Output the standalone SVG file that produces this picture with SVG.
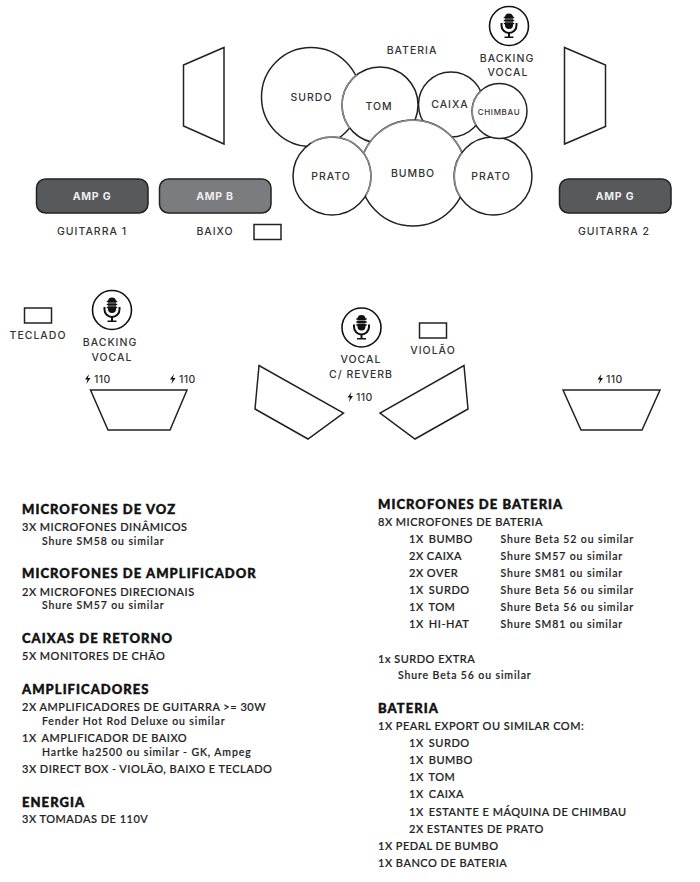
<svg xmlns="http://www.w3.org/2000/svg" width="700" height="882" viewBox="0 0 700 882">
<style>
.o{fill:#fff;stroke:#222;stroke-width:1.5;stroke-linejoin:miter}
.e{fill:none;stroke:#8a8a8a;stroke-width:1.6}
.l{font-family:"Inter","Liberation Sans",sans-serif;font-size:10.5px;font-weight:500;fill:#333;letter-spacing:1px;text-anchor:middle}
.a{font-family:"Inter","Liberation Sans",sans-serif;font-size:10.5px;font-weight:700;fill:#eee;letter-spacing:.75px;text-anchor:middle}
.h{font-family:"Lato","Liberation Sans",sans-serif;font-size:13px;font-weight:900;fill:#111;stroke:#111;stroke-width:.45px;letter-spacing:1.05px}
.t{font-family:"Lato","Liberation Sans",sans-serif;font-size:11px;font-weight:500;fill:#222;stroke:#222;stroke-width:.2px;letter-spacing:.5px}
.s{font-family:"Lato","Liberation Sans",sans-serif;font-size:10.5px;font-weight:500;fill:#222;stroke:#222;stroke-width:.2px;letter-spacing:.88px}
.n{font-family:"Inter","Liberation Sans",sans-serif;font-size:10.5px;font-weight:500;fill:#333;letter-spacing:.4px}
</style>
<defs>
<g id="mic">
<circle r="19.5" fill="#fff" stroke="#111" stroke-width="1.6"/>
<rect x="-4" y="-12.500" width="8" height="15.500" rx="4" fill="#111"/>
<path d="M-5.200 -8.500h10.400M-5.200 -5.500h10.400M-5.200 -2.500h10.400" stroke="#111" stroke-width="1.300" fill="none"/>
<path d="M-5.200 -7h10.400M-5.200 -4h10.400" stroke="#fff" stroke-width=".5" fill="none"/>
<path d="M-8.500 -3v2.500a8.500 8.500 0 0 0 17 0v-2.500h-2v2.500a6.500 6.500 0 0 1-13 0v-2.500z" fill="#111"/>
<path d="M-1 7h2v3.500h3.500v1.500h-9v-1.500h3.500z" fill="#111"/>
</g>
<path id="bolt" d="M1.500 0L-2.500 5.500H0L-1.200 10L3 4H0.400z" fill="#111"/>
</defs>

<g id="monitor-top-left"><polygon class="o" points="183.500,65 224,47.500 224,144 183.500,126"/></g>
<g id="monitor-top-right"><polygon class="o" points="564.500,47.500 605.500,65 605.500,126.500 564.500,144"/></g>

<g id="drums">
<g id="surdo"><circle class="o" cx="311" cy="97" r="49.500"/><text class="l" x="311.500" y="101">SURDO</text></g>
<g id="caixa"><circle class="o" cx="451" cy="104.500" r="32.500"/><text class="l" x="450" y="108">CAIXA</text></g>
<g id="tom"><circle class="o" cx="380" cy="105" r="38"/><path class="e" d="M356.900 74.800A38 38 0 0 0 350 128.300"/><text class="l" x="379" y="110">TOM</text></g>
<g id="bumbo"><circle class="o" cx="413" cy="173" r="53"/><path class="e" d="M364 153A53 53 0 0 1 462 153"/><text class="l" x="413" y="177">BUMBO</text></g>
<g id="prato-l"><circle class="o" cx="332" cy="176" r="39"/><path class="e" d="M311 143A39 39 0 0 1 366 195"/><text class="l" x="331" y="179.500">PRATO</text></g>
<g id="prato-r"><circle class="o" cx="493" cy="176" r="39"/><path class="e" d="M462 153A39 39 0 0 0 460 196.500"/><text class="l" x="491" y="179.500">PRATO</text></g>
<g id="chimbau"><circle class="o" cx="499.500" cy="111" r="27.500"/><path class="e" d="M481 91A27.500 27.500 0 0 0 476 125"/><text class="l" x="499" y="115" style="font-size:8px;letter-spacing:.65px">CHIMBAU</text></g>
<text class="l" x="412" y="54">BATERIA</text>
</g>

<g id="mic-top"><use href="#mic" x="509" y="26"/><text class="l" x="507" y="62">BACKING</text><text class="l" x="508" y="76">VOCAL</text></g>

<g id="amp-g1"><rect x="36.500" y="179" width="111.500" height="34" rx="9" fill="#58595b" stroke="#222" stroke-width="1.500"/><text class="a" x="92" y="200">AMP G</text></g>
<g id="amp-b"><rect x="159.500" y="179" width="111.500" height="34" rx="9" fill="#7b7c7f" stroke="#222" stroke-width="1.500"/><text class="a" x="215" y="200">AMP B</text></g>
<g id="amp-g2"><rect x="559.500" y="179" width="111.500" height="34" rx="9" fill="#58595b" stroke="#222" stroke-width="1.500"/><text class="a" x="615" y="200">AMP G</text></g>
<text class="l" x="92" y="235">GUITARRA 1</text>
<text class="l" x="215" y="235">BAIXO</text>
<text class="l" x="614" y="235">GUITARRA 2</text>
<g id="di-baixo"><rect class="o" x="254" y="224.500" width="27" height="15"/></g>

<g id="teclado"><rect class="o" x="24.500" y="308" width="27" height="15"/><text class="l" x="38" y="339">TECLADO</text></g>
<g id="mic-left"><use href="#mic" x="112" y="310"/><text class="l" x="110" y="346">BACKING</text><text class="l" x="112" y="361">VOCAL</text></g>
<g id="mic-center"><use href="#mic" x="361.500" y="327.500"/><text class="l" x="361" y="363">VOCAL</text><text class="l" x="361" y="378">C/ REVERB</text></g>
<g id="violao"><rect class="o" x="419.500" y="323" width="27" height="15"/><text class="l" x="433" y="354">VIOLÃO</text></g>

<g id="monitor-1"><polygon class="o" points="90.500,390 187,390 170,430 108,430"/></g>
<g id="monitor-2"><polygon class="o" points="259,365.500 255,409 308,439 343.500,413"/></g>
<g id="monitor-3"><polygon class="o" points="464,365.500 468,409 415,439 380,413"/></g>
<g id="monitor-4"><polygon class="o" points="563,390 660,390 642,430 581,430"/></g>

<g id="power">
<use href="#bolt" x="87.500" y="374"/><text class="n" x="94" y="383">110</text>
<use href="#bolt" x="172.500" y="374"/><text class="n" x="179" y="383">110</text>
<use href="#bolt" x="350" y="392"/><text class="n" x="356" y="401">110</text>
<use href="#bolt" x="600" y="374"/><text class="n" x="606" y="383">110</text>
</g>

<g id="list-left">
<text class="h" x="22" y="514">MICROFONES DE VOZ</text>
<text class="t" x="22" y="531">3X MICROFONES DINÂMICOS</text>
<text class="s" x="42" y="545">Shure SM58 ou similar</text>
<text class="h" x="22" y="578">MICROFONES DE AMPLIFICADOR</text>
<text class="t" x="22" y="596">2X MICROFONES DIRECIONAIS</text>
<text class="s" x="42" y="609">Shure SM57 ou similar</text>
<text class="h" x="22" y="643">CAIXAS DE RETORNO</text>
<text class="t" x="22" y="660">5X MONITORES DE CHÃO</text>
<text class="h" x="22" y="694">AMPLIFICADORES</text>
<text class="t" x="22" y="711">2X AMPLIFICADORES DE GUITARRA &gt;= 30W</text>
<text class="s" x="42" y="725">Fender Hot Rod Deluxe ou similar</text>
<text class="t" x="22" y="742">1X <tspan dx="2">AMPLIFICADOR DE BAIXO</tspan></text>
<text class="s" x="42" y="756">Hartke ha2500 ou similar - GK, Ampeg</text>
<text class="t" x="22" y="773">3X DIRECT BOX - VIOLÃO, BAIXO E TECLADO</text>
<text class="h" x="22" y="807">ENERGIA</text>
<text class="t" x="22" y="823">3X TOMADAS DE 110V</text>
</g>

<g id="list-right">
<text class="h" x="378" y="509">MICROFONES DE BATERIA</text>
<text class="t" x="378" y="526">8X MICROFONES DE BATERIA</text>
<text class="t" x="409" y="543">1X <tspan dx="2">BUMBO</tspan></text><text class="s" x="500.500" y="543">Shure Beta 52 ou similar</text>
<text class="t" x="409" y="560">2X CAIXA</text><text class="s" x="500.500" y="560">Shure SM57 ou similar</text>
<text class="t" x="409" y="577">2X OVER</text><text class="s" x="500.500" y="577">Shure SM81 ou similar</text>
<text class="t" x="409" y="594">1X <tspan dx="2">SURDO</tspan></text><text class="s" x="500.500" y="594">Shure Beta 56 ou similar</text>
<text class="t" x="409" y="611">1X <tspan dx="2">TOM</tspan></text><text class="s" x="500.500" y="611">Shure Beta 56 ou similar</text>
<text class="t" x="409" y="628">1X <tspan dx="2">HI-HAT</tspan></text><text class="s" x="500.500" y="628">Shure SM81 ou similar</text>
<text class="t" x="378" y="663">1x SURDO EXTRA</text>
<text class="s" x="398" y="679">Shure Beta 56 ou similar</text>
<text class="h" x="378" y="713">BATERIA</text>
<text class="t" x="378" y="730">1X PEARL EXPORT OU SIMILAR COM:</text>
<text class="t" x="409" y="747">1X <tspan dx="2">SURDO</tspan></text>
<text class="t" x="409" y="764">1X <tspan dx="2">BUMBO</tspan></text>
<text class="t" x="409" y="781">1X <tspan dx="2">TOM</tspan></text>
<text class="t" x="409" y="798">1X <tspan dx="2">CAIXA</tspan></text>
<text class="t" x="409" y="816">1X <tspan dx="2">ESTANTE E MÁQUINA DE CHIMBAU</tspan></text>
<text class="t" x="409" y="833">2X ESTANTES DE PRATO</text>
<text class="t" x="378" y="850">1X PEDAL DE BUMBO</text>
<text class="t" x="378" y="867">1X BANCO DE BATERIA</text>
</g>
</svg>
